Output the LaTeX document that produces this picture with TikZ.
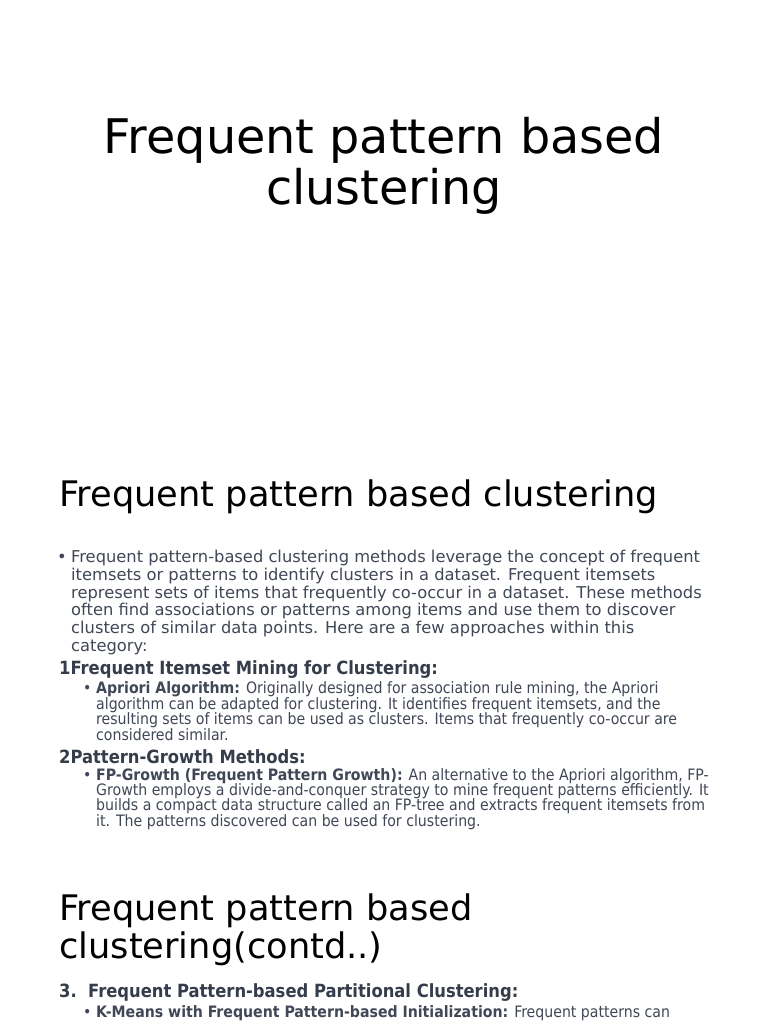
\documentclass[tikz,border=0pt]{standalone}
\usepackage{fontspec}
\setmainfont{DejaVu Sans}
\newfontfamily\cond{DejaVu Sans Condensed}
\definecolor{body}{HTML}{404756}
\definecolor{head}{HTML}{353C4A}
\begin{document}
\begin{tikzpicture}[x=1pt,y=-1pt,
  ttl/.style={anchor=center,font=\fontsize{47.7}{52}\selectfont,align=center,inner sep=0},
  hd/.style={anchor=west,font=\fontsize{35.2}{38}\selectfont,inner sep=0},
  bl/.style={anchor=west,font=\fontsize{16.3}{17.5}\selectfont,text=body,inner sep=0},
  nm/.style={anchor=west,font=\cond\bfseries\fontsize{18.2}{19}\selectfont,text=head,inner sep=0},
  sb/.style={anchor=west,font=\cond\fontsize{15.7}{15.5}\selectfont,text=body,inner sep=0}]
\clip (0,0) rectangle (768,1024);
\fill[white] (0,0) rectangle (768,1024);
\node[ttl] (t1) at (384,140) {Frequent pattern based};
\node[ttl] (t2) at (384,191) {clustering};
\node[hd] (h2) at (59,497) {Frequent pattern based clustering};
\node[bl] (b0) at (57,558) {\textbullet};
\node[bl] (b1) at (71,558) {Frequent pattern-based clustering methods leverage the concept of frequent};
\node[bl] (b2) at (71,576) {itemsets or patterns to identify clusters in a dataset. Frequent itemsets};
\node[bl] (b3) at (71,594) {represent sets of items that frequently co-occur in a dataset. These methods};
\node[bl] (b4) at (71,611) {often find associations or patterns among items and use them to discover};
\node[bl] (b5) at (71,629) {clusters of similar data points. Here are a few approaches within this};
\node[bl] (b6) at (71,647) {category:};
\node[nm] (n1) at (59,670) {1Frequent Itemset Mining for Clustering:};
\node[sb] (s0) at (83,689) {\textbullet};
\node[sb] (s1) at (96,689) {\textbf{Apriori Algorithm:} Originally designed for association rule mining, the Apriori};
\node[sb] (s2) at (96,705) {algorithm can be adapted for clustering. It identifies frequent itemsets, and the};
\node[sb] (s3) at (96,720) {resulting sets of items can be used as clusters. Items that frequently co-occur are};
\node[sb] (s4) at (96,735) {considered similar.};
\node[nm] (n2) at (59,757) {2Pattern-Growth Methods:};
\node[sb] (r0) at (83,776) {\textbullet};
\node[sb] (r1) at (96,776) {\textbf{FP-Growth (Frequent Pattern Growth):} An alternative to the Apriori algorithm, FP-};
\node[sb] (r2) at (96,791) {Growth employs a divide-and-conquer strategy to mine frequent patterns efficiently. It};
\node[sb] (r3) at (96,806) {builds a compact data structure called an FP-tree and extracts frequent itemsets from};
\node[sb] (r4) at (96,822) {it. The patterns discovered can be used for clustering.};
\node[hd] (h3a) at (59,911) {Frequent pattern based};
\node[hd] (h3b) at (59,949) {clustering(contd..)};
\node[nm] (n3) at (59,993) {3.\ \ Frequent Pattern-based Partitional Clustering:};
\node[sb] (q0) at (83,1013) {\textbullet};
\node[sb] (q1) at (96,1013) {\textbf{K-Means with Frequent Pattern-based Initialization:} Frequent patterns can};
\end{tikzpicture}
\end{document}
